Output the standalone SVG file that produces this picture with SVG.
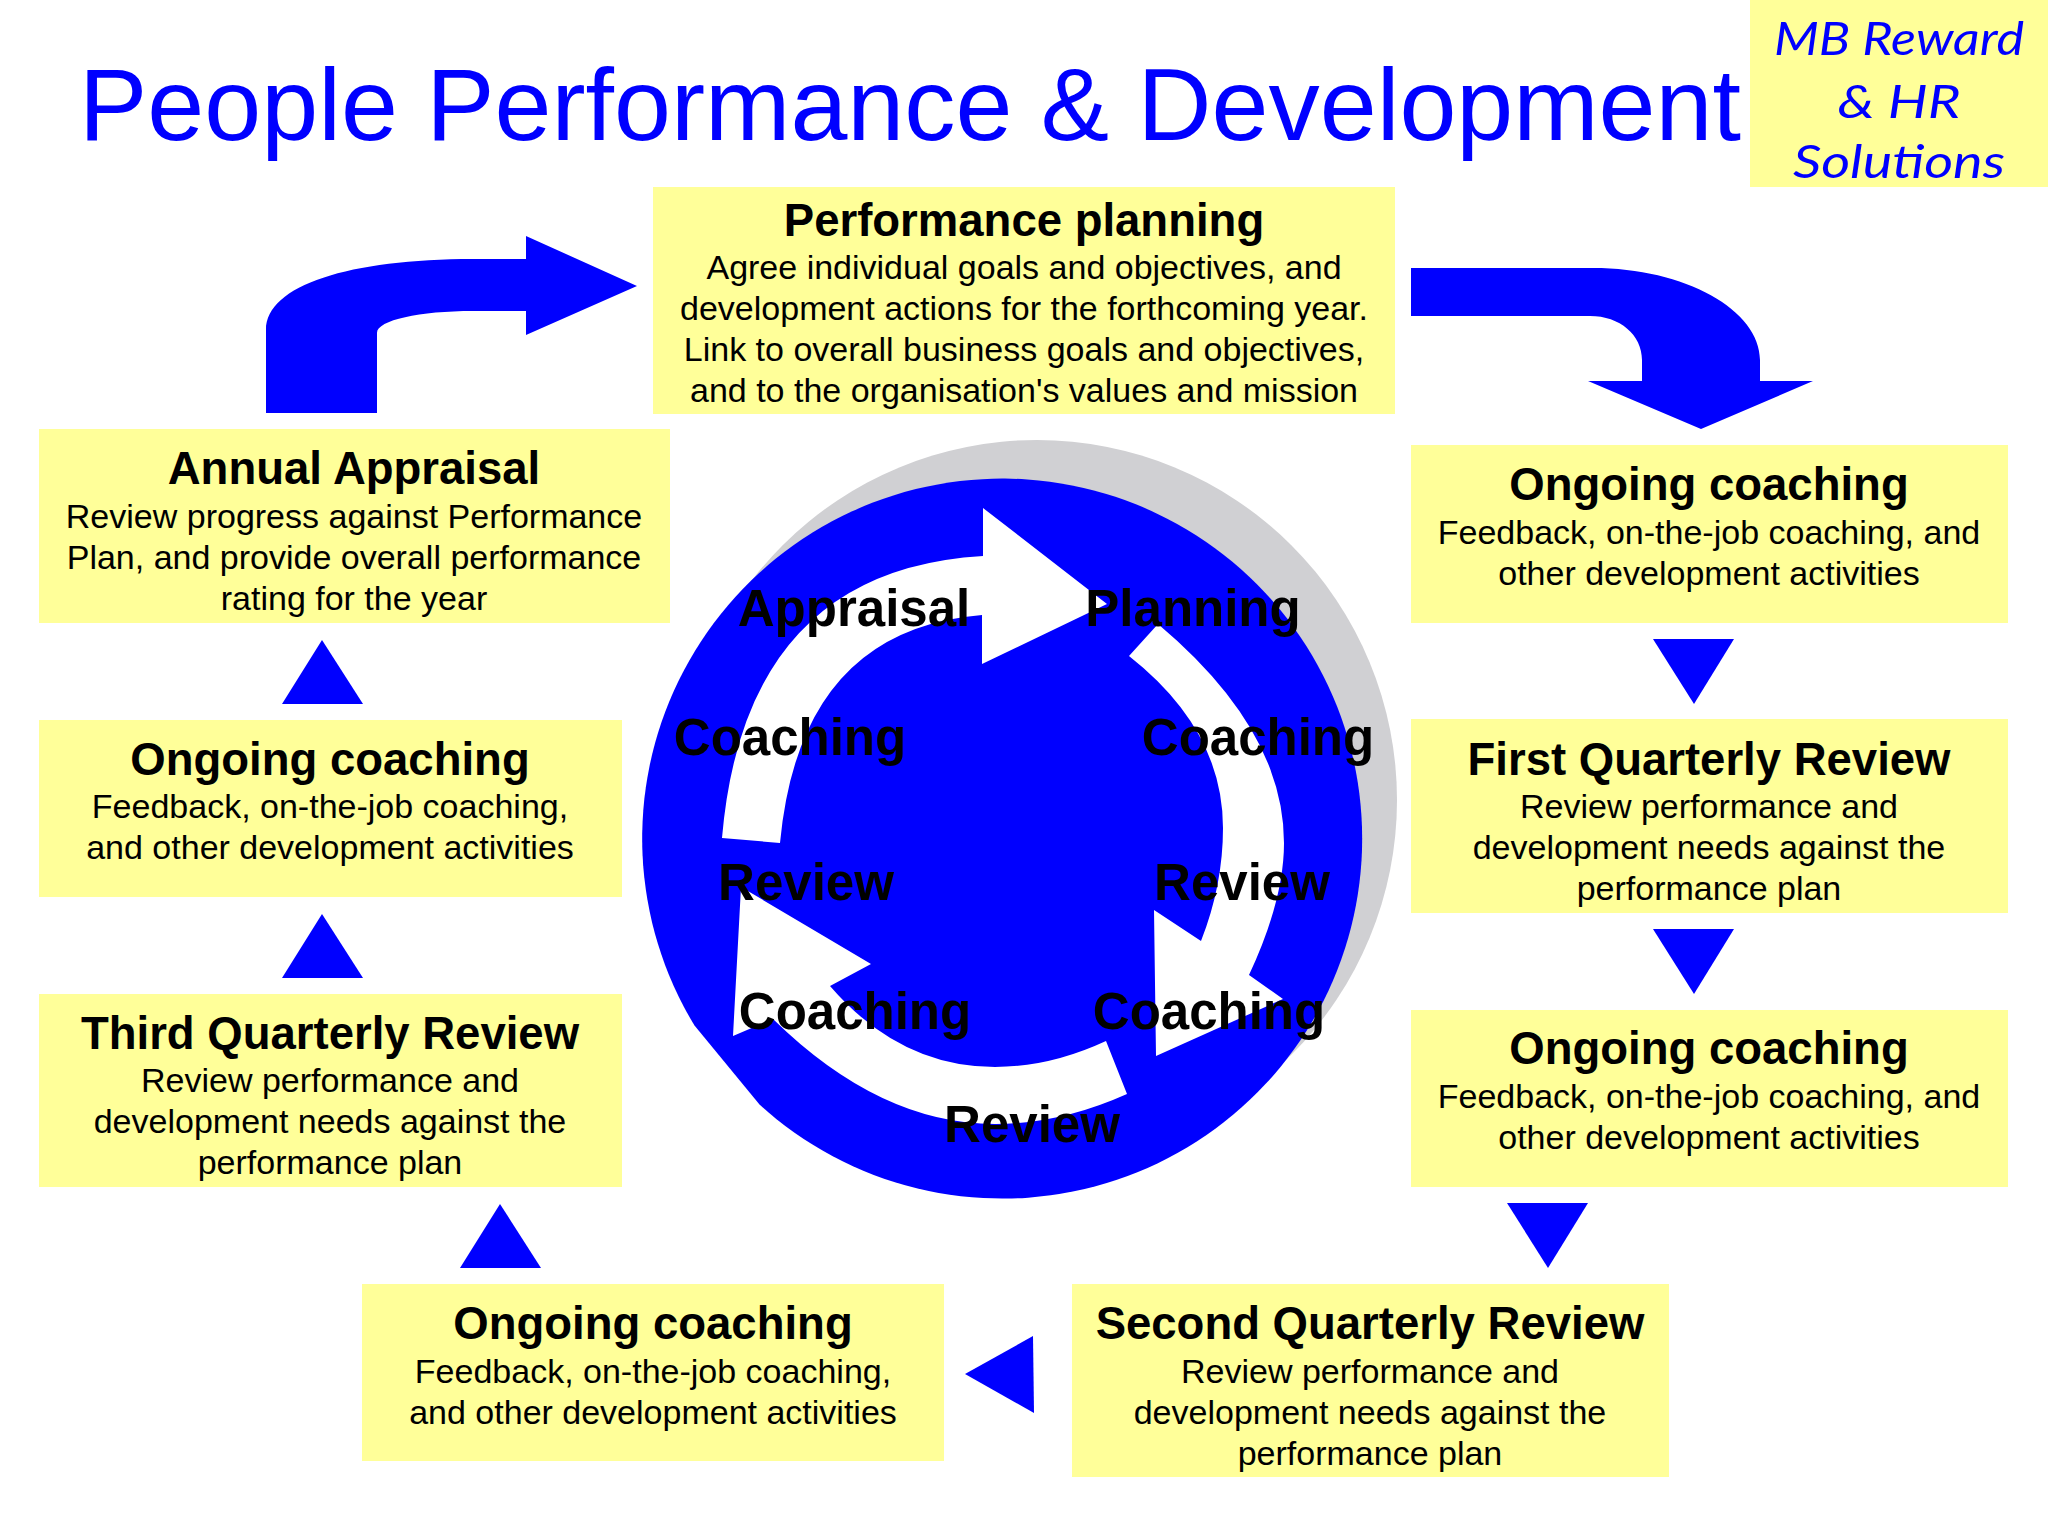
<svg xmlns="http://www.w3.org/2000/svg" width="2048" height="1536" viewBox="0 0 2048 1536">
<style>
text{font-family:"Liberation Sans",Arial,sans-serif;text-anchor:middle}
.box{fill:#ffff99}
.h{font-size:45.5px;font-weight:700;fill:#000}
.b{font-size:34px;fill:#000}
.blue{fill:#0000ff}
.white{fill:#fff}
.lab{font-size:51px;font-weight:700;fill:#000}
.title{font-size:102.4px;fill:#0000ff;text-anchor:start}
.logo{font-family:"Lato","Open Sans",sans-serif;font-style:italic;font-size:46px;fill:#0000ff}
</style>
<rect width="2048" height="1536" fill="#fff"/>
<text id="title" class="title" x="79" y="140">People Performance &amp; Development</text>
<g id="logo"><rect class="box" x="1750" y="0" width="298" height="187"/>
<text class="logo" x="1899" y="55" textLength="250" lengthAdjust="spacingAndGlyphs">MB Reward</text><text class="logo" x="1899" y="118" textLength="123" lengthAdjust="spacingAndGlyphs">&amp; HR</text><text class="logo" x="1899" y="178" textLength="212" lengthAdjust="spacingAndGlyphs">Solutions</text></g>
<g id="cycle">
<circle cx="1037" cy="800" r="360" fill="#d0d0d3"/>
<path class="blue" d="M694.5 1025.5A360 360 0 1 1 759.5 1104.5Z"/>
<path class="white" d="M722 838Q745 570 983 556V508L1107 604 982 664V615Q800 630 780 843Z"/>
<path class="white" d="M1158 624Q1284 730 1284 843 1284 900 1249 975L1283 999 1156 1056 1154 910 1201 941Q1223 885 1223 828 1223 730 1129 656Z"/>
<path class="white" d="M1127 1094Q1060 1124 995 1124 880 1124 773 1019L733 1036 741 887 871 964 830 986Q900 1067 995 1067 1050 1067 1106 1041Z"/>
<text class="lab" x="854" y="626">Appraisal</text>
<text class="lab" x="1193" y="626">Planning</text>
<text class="lab" x="790" y="755">Coaching</text>
<text class="lab" x="1258" y="755">Coaching</text>
<text class="lab" x="806" y="900">Review</text>
<text class="lab" x="1242" y="900">Review</text>
<text class="lab" x="855" y="1029">Coaching</text>
<text class="lab" x="1209" y="1029">Coaching</text>
<text class="lab" x="1032" y="1142">Review</text>
</g>
<g id="connectors">
<path class="blue" d="M266 413V330C266 285 350 259 473 259H526V236L637 286 526 335V311H473C420 311 377 320 377 333V413Z"/>
<path class="blue" d="M1411 268H1593C1685 268 1760 310 1760 360V381H1813L1701 429 1588 381H1642V360C1642 335 1620 316 1590 316H1411Z"/>
<polygon class="blue" points="282,704 322,640 363,704"/>
<polygon class="blue" points="282,978 322,914 363,978"/>
<polygon class="blue" points="460,1268 500,1204 541,1268"/>
<polygon class="blue" points="1653,639 1734,639 1694,704"/>
<polygon class="blue" points="1653,929 1734,929 1694,994"/>
<polygon class="blue" points="1507,1203 1588,1203 1548,1268"/>
<polygon class="blue" points="965,1374 1033,1336 1034,1413"/>
</g>
<g id="planning"><rect class="box" x="653" y="187" width="742" height="227"/>
<text class="h" x="1024" y="236">Performance planning</text>
<text class="b" x="1024" y="279">Agree individual goals and objectives, and</text>
<text class="b" x="1024" y="320">development actions for the forthcoming year.</text>
<text class="b" x="1024" y="361">Link to overall business goals and objectives,</text>
<text class="b" x="1024" y="402">and to the organisation's values and mission</text></g>
<g id="appraisal"><rect class="box" x="39" y="429" width="631" height="194"/>
<text class="h" x="354" y="484">Annual Appraisal</text>
<text class="b" x="354" y="528">Review progress against Performance</text>
<text class="b" x="354" y="569">Plan, and provide overall performance</text>
<text class="b" x="354" y="610">rating for the year</text></g>
<g id="coaching4"><rect class="box" x="39" y="720" width="583" height="177"/>
<text class="h" x="330" y="775">Ongoing coaching</text>
<text class="b" x="330" y="818">Feedback, on-the-job coaching,</text>
<text class="b" x="330" y="859">and other development activities</text></g>
<g id="q3"><rect class="box" x="39" y="994" width="583" height="193"/>
<text class="h" x="330" y="1049">Third Quarterly Review</text>
<text class="b" x="330" y="1092">Review performance and</text>
<text class="b" x="330" y="1133">development needs against the</text>
<text class="b" x="330" y="1174">performance plan</text></g>
<g id="coaching3"><rect class="box" x="362" y="1284" width="582" height="177"/>
<text class="h" x="653" y="1339">Ongoing coaching</text>
<text class="b" x="653" y="1383">Feedback, on-the-job coaching,</text>
<text class="b" x="653" y="1424">and other development activities</text></g>
<g id="q2"><rect class="box" x="1072" y="1284" width="597" height="193"/>
<text class="h" x="1370" y="1339">Second Quarterly Review</text>
<text class="b" x="1370" y="1383">Review performance and</text>
<text class="b" x="1370" y="1424">development needs against the</text>
<text class="b" x="1370" y="1465">performance plan</text></g>
<g id="coaching1"><rect class="box" x="1411" y="445" width="597" height="178"/>
<text class="h" x="1709" y="500">Ongoing coaching</text>
<text class="b" x="1709" y="544">Feedback, on-the-job coaching, and</text>
<text class="b" x="1709" y="585">other development activities</text></g>
<g id="q1"><rect class="box" x="1411" y="719" width="597" height="194"/>
<text class="h" x="1709" y="775">First Quarterly Review</text>
<text class="b" x="1709" y="818">Review performance and</text>
<text class="b" x="1709" y="859">development needs against the</text>
<text class="b" x="1709" y="900">performance plan</text></g>
<g id="coaching2"><rect class="box" x="1411" y="1010" width="597" height="177"/>
<text class="h" x="1709" y="1064">Ongoing coaching</text>
<text class="b" x="1709" y="1108">Feedback, on-the-job coaching, and</text>
<text class="b" x="1709" y="1149">other development activities</text></g>
</svg>
